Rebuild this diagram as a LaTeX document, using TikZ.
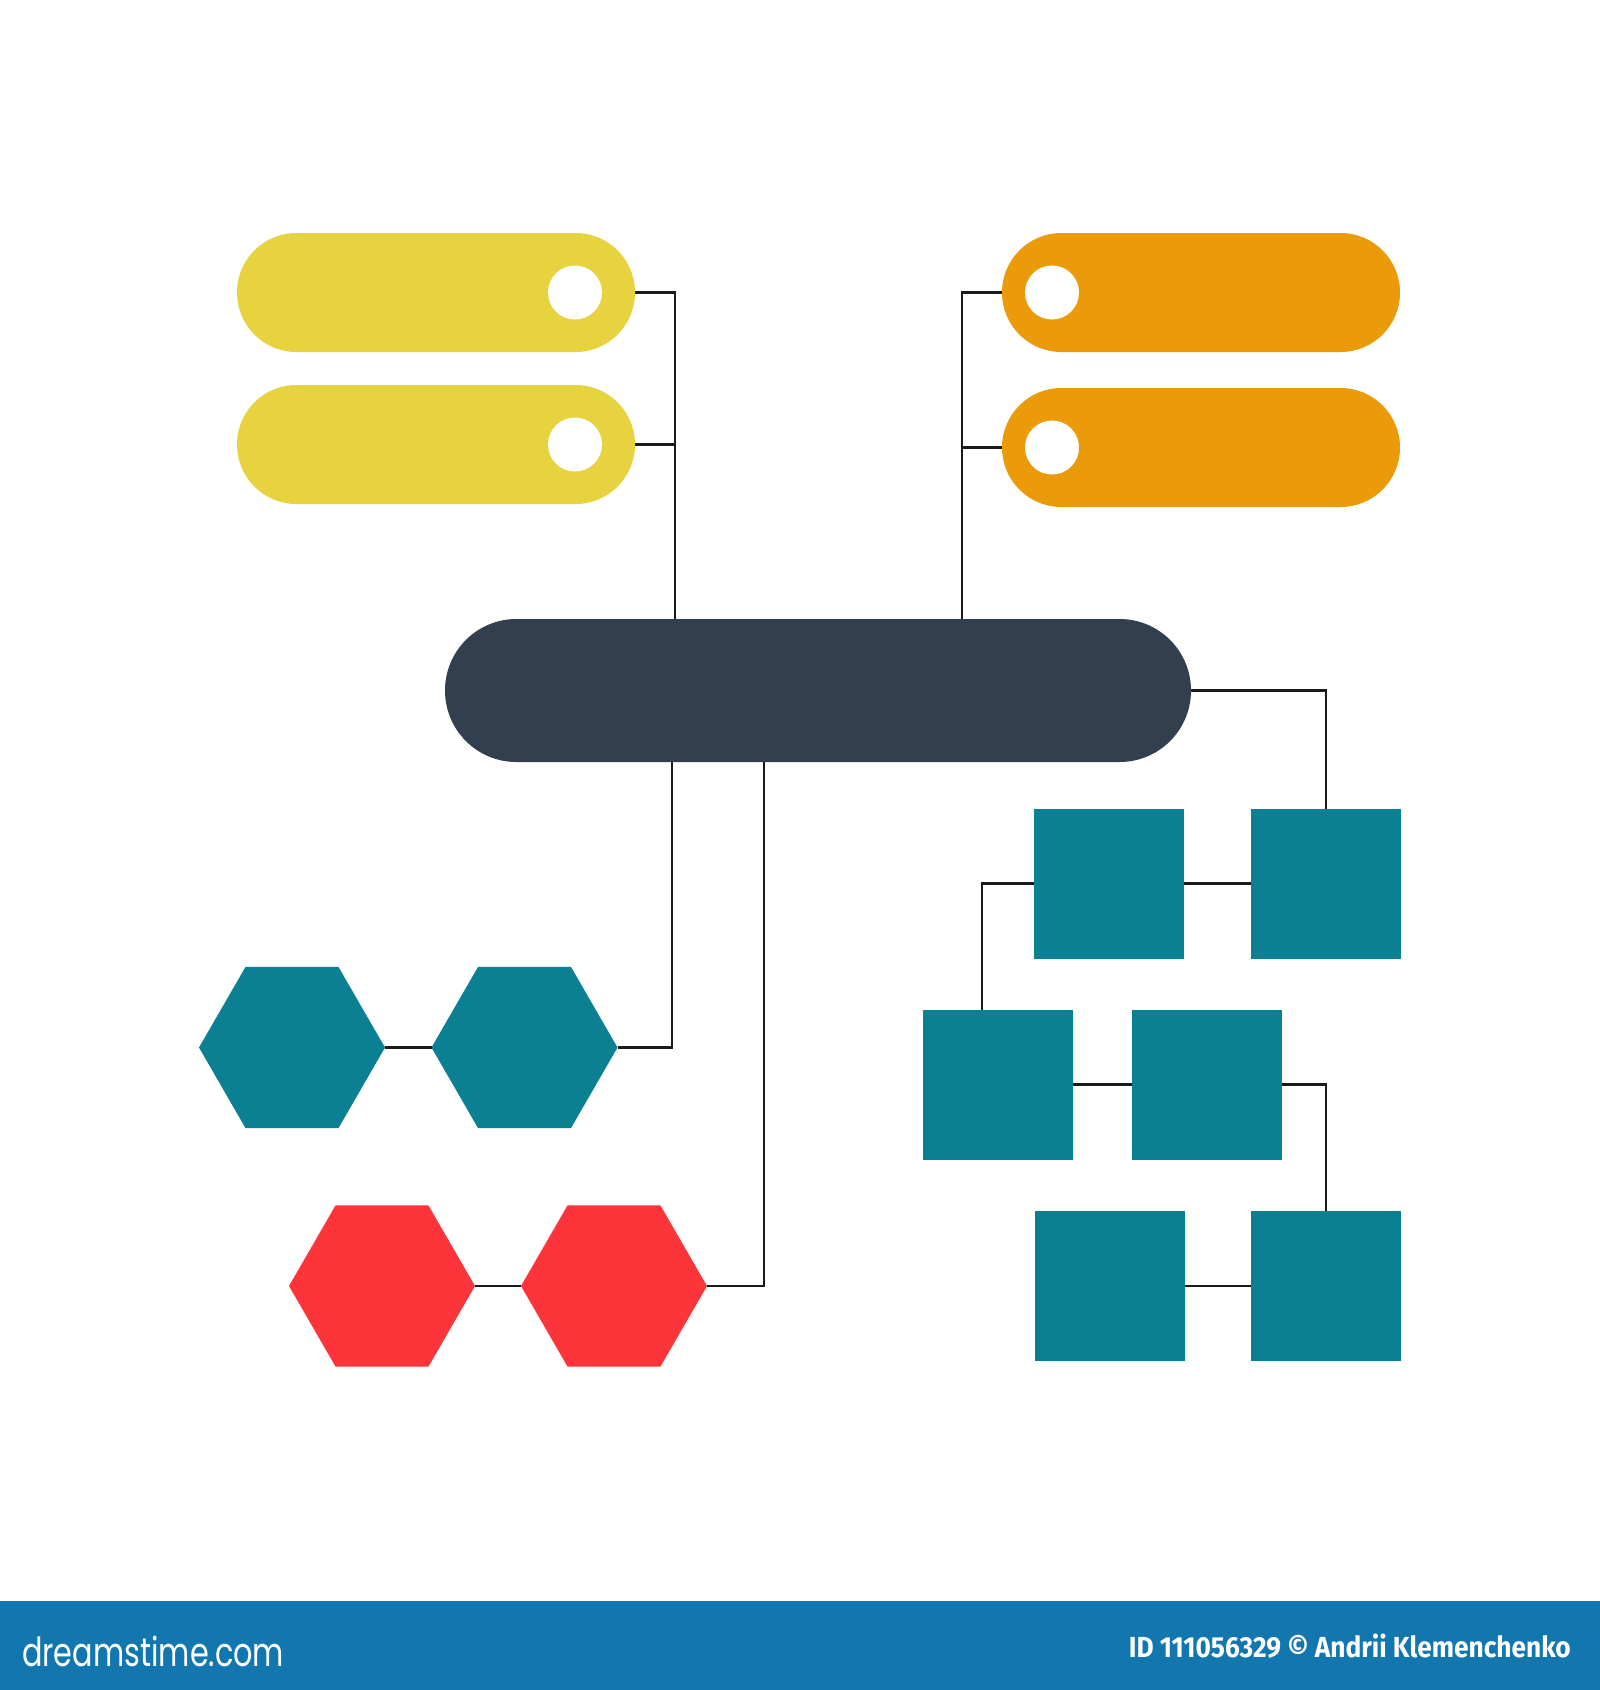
\documentclass[tikz,border=0pt]{standalone}
\usepackage{fontspec}
\usepackage{graphicx}
\setmainfont{Fira Sans}
\newfontfamily\brandfont{Poppins}
\usetikzlibrary{shapes.geometric}
\definecolor{cyellow}{HTML}{E6D33F}
\definecolor{corange}{HTML}{EB9A0A}
\definecolor{cdark}{HTML}{323F4F}
\definecolor{cteal}{HTML}{0A8092}
\definecolor{cred}{HTML}{FE343B}
\definecolor{cbanner}{HTML}{1277AF}
\definecolor{cline}{HTML}{1A1A1A}
\begin{document}
\begin{tikzpicture}[x=1pt,y=-1pt,
  pill/.style={rectangle, rounded corners=59.4pt, inner sep=0pt, outer sep=0pt,
    minimum width=398pt, minimum height=119pt},
  hole/.style={circle, fill=white, inner sep=0pt, outer sep=0pt, minimum size=54pt},
  hexa/.style={regular polygon, regular polygon sides=6, inner sep=0pt, outer sep=0pt,
    minimum size=186pt},
  sqbox/.style={rectangle, fill=cteal, inner sep=0pt, outer sep=0pt, minimum size=150pt},
  conn/.style={draw=cline, line width=2.2pt}]
\useasboundingbox (0,0) rectangle (1600,1690);
\fill[white] (0,0) rectangle (1600,1690);

% yellow pills
\node[pill, fill=cyellow] (y1) at (436,292.5) {};
\node[pill, fill=cyellow] (y2) at (436,444.5) {};
\node[hole] (yh1) at (575,292.5) {};
\node[hole] (yh2) at (575,444.5) {};
% orange pills
\node[pill, fill=corange] (o1) at (1201,292.5) {};
\node[pill, fill=corange] (o2) at (1201,447.5) {};
\node[hole] (oh1) at (1052,292.5) {};
\node[hole] (oh2) at (1052,447.5) {};
% central pill
\node[rectangle, rounded corners=71.4pt, fill=cdark, inner sep=0pt, outer sep=0pt,
  minimum width=746pt, minimum height=143pt] (hub) at (818,690.5) {};
% hexagons
\node[hexa, fill=cteal] (h1) at (292,1047.5) {};
\node[hexa, fill=cteal] (h2) at (524.5,1047.5) {};
\node[hexa, fill=cred] (r1) at (382,1286) {};
\node[hexa, fill=cred] (r2) at (614,1286) {};
% squares
\node[sqbox] (sa) at (1109,883.5) {};
\node[sqbox] (sb) at (1326,883.5) {};
\node[sqbox] (sc) at (998,1084.5) {};
\node[sqbox] (sd) at (1207,1084.5) {};
\node[sqbox] (se) at (1109.5,1286) {};
\node[sqbox] (sf) at (1326,1286) {};

% junction coordinates
\coordinate (jy) at (675,292.5);
\coordinate (jo) at (962,292.5);
\coordinate (jh) at (672,1047.5);
\coordinate (jr) at (764,1286);
\coordinate (ja) at (982,883.5);

% connectors
\draw[conn] (y1.east) -- (jy) -- (jy |- hub.north);
\draw[conn] (y2.east) -- (y2.east -| jy);
\draw[conn] (o1.west) -- (jo) -- (jo |- hub.north);
\draw[conn] (o2.west) -- (o2.west -| jo);
\draw[conn] (hub.east) -| (sb.north);
\draw[conn] (h1.east) -- (h2.west);
\draw[conn] (h2.east) -- (jh) -- (jh |- hub.south);
\draw[conn] (r1.east) -- (r2.west);
\draw[conn] (r2.east) -- (jr) -- (jr |- hub.south);
\draw[conn] (sa.east) -- (sb.west);
\draw[conn] (sa.west) -- (ja) -- (ja |- sc.north);
\draw[conn] (sc.east) -- (sd.west);
\draw[conn] (sd.east) -| (sf.north);
\draw[conn] (se.east) -- (sf.west);

% banner
\fill[cbanner] (0,1601) rectangle (1600,1690);
\node[anchor=base west, text=white, inner sep=0pt] (brand) at (22,1666)
  {\resizebox{262pt}{\height}{\fontsize{40}{40}\selectfont\brandfont dreamstime.com}};
\node[anchor=base east, text=white, inner sep=0pt] (credit) at (1571,1657)
  {\resizebox{442pt}{\height}{\fontsize{29}{29}\selectfont\bfseries ID 111056329 © Andrii Klemenchenko}};
\end{tikzpicture}
\end{document}
